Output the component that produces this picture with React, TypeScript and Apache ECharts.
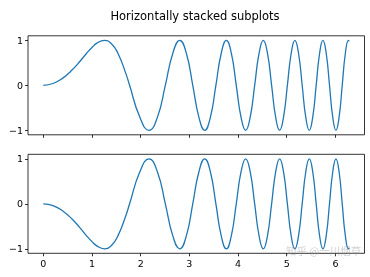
import React, { useEffect, useRef } from "react";
import * as echarts from "echarts";

const title = "Horizontally stacked subplots";
const xTicks = [0, 1, 2, 3, 4, 5, 6];
const yTicks = [-1, 0, 1];

const xs = [
  0, 0.2, 0.4, 0.6, 0.75, 0.8862, 1.0, 1.1, 1.2533, 1.4, 1.535, 1.7, 1.7725, 1.9817, 2.1708, 2.3447,
  2.5066, 2.6587, 2.8025, 2.9393, 3.07, 3.1954, 3.316, 3.4324, 3.5449, 3.654, 3.76,
  3.863, 3.9633, 4.0612, 4.1568, 4.2502, 4.3416, 4.4312, 4.5189, 4.605, 4.6895,
  4.7725, 4.8541, 4.9343, 5.0133, 5.091, 5.1675, 5.243, 5.3174, 5.3907, 5.4631,
  5.5345, 5.605, 5.6746, 5.7434, 5.8114, 5.8786, 5.945, 6.0107, 6.0757, 6.14,
  6.2036, 6.2666, 6.2832,
];
const topValues = [
  0, 0.04, 0.16, 0.35, 0.53, 0.707, 0.841, 0.936, 1, 0.925, 0.707, 0.248, 0, -0.707, -1, -0.707,
  0, 0.707, 1, 0.707, 0, -0.707, -1, -0.707, 0, 0.707, 1,
  0.707, 0, -0.707, -1, -0.707, 0, 0.707, 1, 0.707, 0,
  -0.707, -1, -0.707, 0, 0.707, 1, 0.707, 0, -0.707, -1,
  -0.707, 0, 0.707, 1, 0.707, 0, -0.707, -1, -0.707, 0,
  0.707, 1, 0.978,
];
const bottomValues = [
  0, -0.04, -0.16, -0.35, -0.53, -0.707, -0.841, -0.936, -1, -0.925, -0.707, -0.248, 0, 0.707, 1, 0.707,
  0, -0.707, -1, -0.707, 0, 0.707, 1, 0.707, 0, -0.707, -1,
  -0.707, 0, 0.707, 1, 0.707, 0, -0.707, -1, -0.707, 0,
  0.707, 1, 0.707, 0, -0.707, -1, -0.707, 0, 0.707, 1,
  0.707, 0, -0.707, -1, -0.707, 0, 0.707, 1, 0.707, 0,
  -0.707, -1, -0.978,
];

const FONT = "DejaVu Sans";

export default function App() {
  const ref = useRef<HTMLDivElement>(null);
  useEffect(() => {
    if (!ref.current) return;
    const chart = echarts.init(ref.current, null, { renderer: "svg" });
    const fmt = (v: number) => String(v).replace("-", "\u2212");
    const mkX = (gridIndex: number, showLabels: boolean) => ({
      type: "value",
      gridIndex,
      min: -0.3142,
      max: 6.5973,
      axisLine: { show: false, onZero: false },
      splitLine: { show: false },
      axisTick: {
        show: true,
        inside: false,
        length: 3,
        customValues: xTicks,
        lineStyle: { color: "#000", width: 0.8 },
      },
      axisLabel: {
        show: showLabels,
        customValues: xTicks,
        margin: 5,
        color: "#000",
        fontFamily: FONT,
        fontSize: 9.5,
        formatter: fmt,
      },
    });
    const mkY = (gridIndex: number) => ({
      type: "value",
      gridIndex,
      min: -1.1,
      max: 1.1,
      axisLine: { show: false, onZero: false },
      splitLine: { show: false },
      axisTick: {
        show: true,
        inside: false,
        length: 3,
        customValues: yTicks,
        lineStyle: { color: "#000", width: 0.8 },
      },
      axisLabel: {
        customValues: yTicks,
        margin: 5,
        color: "#000",
        fontFamily: FONT,
        fontSize: 9.5,
        formatter: fmt,
      },
    });
    const grid = (top: number) => ({
      left: 28,
      width: 336.5,
      top,
      height: 99,
      show: true,
      borderColor: "#000",
      borderWidth: 0.8,
      backgroundColor: "transparent",
      containLabel: false,
    });
    const line = (vals: number[], idx: number) => ({
      type: "line",
      xAxisIndex: idx,
      yAxisIndex: idx,
      data: xs.map((x, i) => [x, vals[i]]),
      showSymbol: false,
      smooth: 0.5,
      lineStyle: { color: "#1f77b4", width: 1.3 },
    });
    chart.setOption({
      animation: false,
      title: {
        text: title,
        left: 190,
        textAlign: "center",
        top: 5,
        textStyle: { fontFamily: FONT, fontSize: 11.5, fontWeight: "normal", color: "#000" },
      },
      grid: [grid(35.8), grid(154.3)],
      xAxis: [mkX(0, false), mkX(1, true)],
      yAxis: [mkY(0), mkY(1)],
      series: [line(topValues, 0), line(bottomValues, 1)],
      graphic: [
        {
          type: "text",
          left: 286,
          top: 245,
          z: 100,
          style: {
            text: "知乎 @一川烟草",
            fill: "rgba(150,150,150,0.45)",
            fontSize: 10.5,
            fontFamily: "Noto Sans CJK SC",
          },
        },
      ],
    });
    return () => chart.dispose();
  }, []);
  return (
    <div
      ref={ref}
      style={{ position: "fixed", left: 0, top: 0, width: 370, height: 277 }}
    />
  );
}
